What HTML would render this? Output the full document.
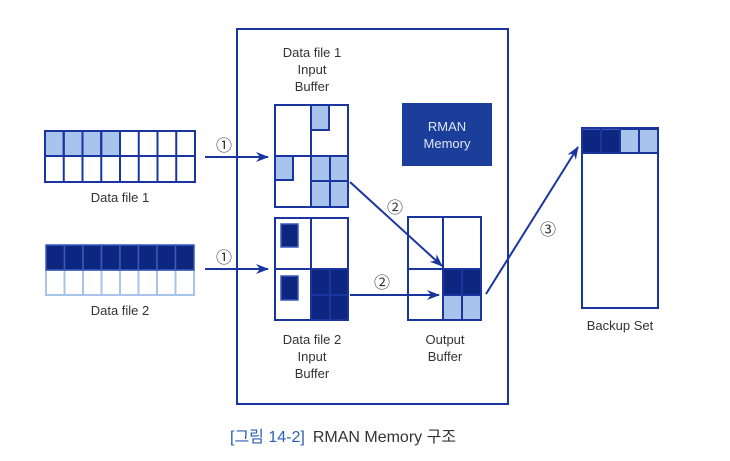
<!DOCTYPE html>
<html><head><meta charset="utf-8"><style>
body{margin:0;background:#fff;}
svg{display:block}
text{font-family:"Liberation Sans","Noto Sans CJK KR",sans-serif;fill:#333;font-size:13px}
</style></head><body>
<svg width="730" height="461" viewBox="0 0 730 461" xmlns="http://www.w3.org/2000/svg">
<defs><marker id="a" markerWidth="13" markerHeight="10" refX="12" refY="5" orient="auto" markerUnits="userSpaceOnUse"><path d="M0,0 L13,5 L0,10 L4,5z" fill="#1a35a0"/></marker></defs>
<g stroke="#1a35a0" stroke-width="2" fill="none">
<rect x="237" y="29" width="271" height="375"/>
<g fill="#a8c4ec"><rect x="45" y="131" width="18.75" height="25"/><rect x="63.75" y="131" width="18.75" height="25"/><rect x="82.5" y="131" width="18.75" height="25"/><rect x="101.25" y="131" width="18.75" height="25"/></g>
<rect x="45" y="131" width="150" height="51"/>
<path d="M45,156H195 M63.75,131V182 M82.5,131V182 M101.25,131V182 M120,131V182 M138.75,131V182 M157.5,131V182 M176.25,131V182"/>
<g stroke="#a8c4ec"><rect x="46" y="270" width="148" height="25"/><path d="M64.5,270V295 M83,270V295 M101.5,270V295 M120,270V295 M138.5,270V295 M157,270V295 M175.5,270V295"/></g>
<g fill="#0d2680" stroke="#3a5ab8" stroke-width="1.5"><rect x="46" y="245" width="18.5" height="25"/><rect x="64.5" y="245" width="18.5" height="25"/><rect x="83" y="245" width="18.5" height="25"/><rect x="101.5" y="245" width="18.5" height="25"/><rect x="120" y="245" width="18.5" height="25"/><rect x="138.5" y="245" width="18.5" height="25"/><rect x="157" y="245" width="18.5" height="25"/><rect x="175.5" y="245" width="18.5" height="25"/></g>
<line x1="205" y1="157" x2="268" y2="157" marker-end="url(#a)"/>
<line x1="205" y1="269" x2="268" y2="269" marker-end="url(#a)"/>
<g fill="#a8c4ec"><rect x="311" y="105" width="18" height="25"/><rect x="275" y="156" width="18" height="24"/><rect x="311" y="156" width="37" height="51"/></g>
<rect x="275" y="105" width="73" height="102"/>
<path d="M311,105V207 M275,156H348 M330,156V207 M311,181H348"/>
<g fill="#0d2680" stroke="#3a5ab8" stroke-width="1.5"><rect x="281" y="224" width="17" height="23"/><rect x="281" y="276" width="17" height="24"/><rect x="311" y="269" width="37" height="51"/></g>
<rect x="275" y="218" width="73" height="102"/>
<path d="M311,218V320 M275,269H348 M330,269V320 M311,295H348"/>
<rect x="443" y="295" width="38" height="25" fill="#a8c4ec"/>
<rect x="443" y="269" width="38" height="26" fill="#0d2680" stroke="#3a5ab8"/>
<rect x="408" y="217" width="73" height="103"/>
<path d="M443,217V320 M408,269H481 M462,269V320 M443,295H481"/>
<line x1="350" y1="182" x2="442" y2="266" marker-end="url(#a)"/>
<line x1="350" y1="295" x2="439" y2="295" marker-end="url(#a)"/>
<line x1="486" y1="294" x2="578" y2="147" marker-end="url(#a)"/>
<rect x="620" y="129" width="38" height="24" fill="#a8c4ec"/>
<rect x="582" y="129" width="38" height="24" fill="#0d2680" stroke="#3a5ab8"/>
<rect x="582" y="128" width="76" height="180"/>
<path d="M582,153H658 M601,128V153 M620,128V153 M639,128V153"/>
</g>
<rect x="402" y="103" width="90" height="63" fill="#1a3e9a"/>
<text x="447" y="131" text-anchor="middle" style="fill:#dfe6f5">RMAN</text>
<text x="447" y="148" text-anchor="middle" style="fill:#dfe6f5">Memory</text>
<g text-anchor="middle">
<text x="120" y="202">Data file 1</text>
<text x="120" y="315">Data file 2</text>
<text x="312" y="57">Data file 1</text>
<text x="312" y="74">Input</text>
<text x="312" y="91">Buffer</text>
<text x="312" y="344">Data file 2</text>
<text x="312" y="361">Input</text>
<text x="312" y="378">Buffer</text>
<text x="445" y="344">Output</text>
<text x="445" y="361">Buffer</text>
<text x="620" y="330">Backup Set</text>
<text x="224" y="151" style="font-size:16px">①</text>
<text x="224" y="263" style="font-size:16px">①</text>
<text x="395" y="213" style="font-size:16px">②</text>
<text x="382" y="288" style="font-size:16px">②</text>
<text x="548" y="235" style="font-size:16px">③</text>
</g>
<text x="230" y="442" style="font-size:16px"><tspan style="fill:#2b5fb5">[그림 14-2]</tspan><tspan dx="8">RMAN Memory 구조</tspan></text>
</svg>
</body></html>
